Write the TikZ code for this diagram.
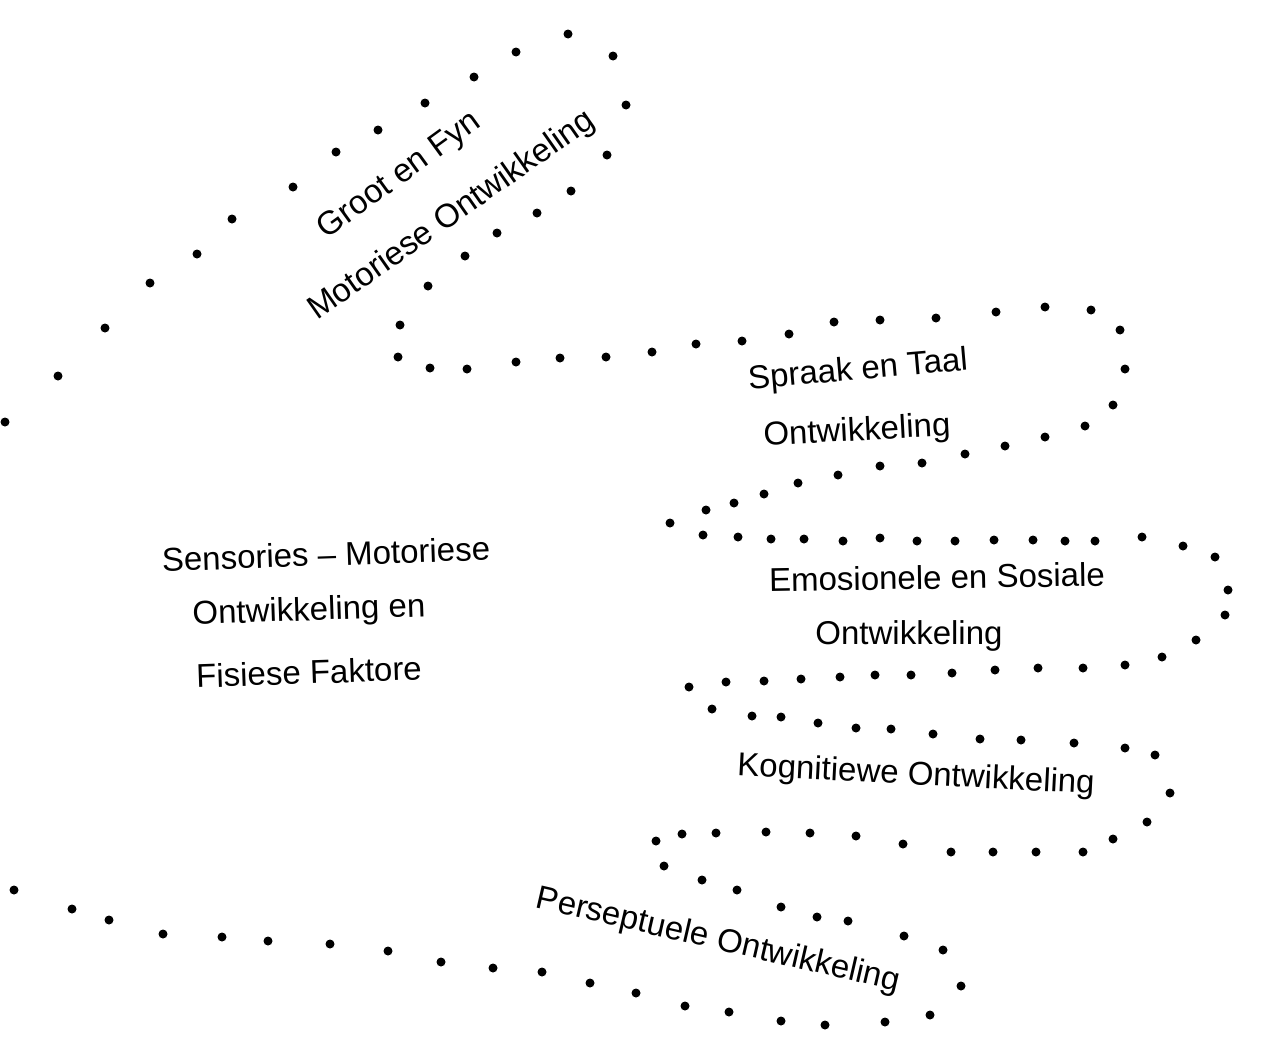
\documentclass[tikz,border=0pt]{standalone}
\usepackage{fontspec}
\setmainfont{Liberation Sans}
\begin{document}
\begin{tikzpicture}[x=1pt,y=-1pt,dot/.style={circle,fill=black,inner sep=0pt,minimum size=9pt},lab/.style={font=\fontsize{33}{38}\selectfont,inner sep=0pt}]
\useasboundingbox (0,0) rectangle (1283,1055);
\foreach \x/\y [count=\i] in {5/422,58/376,105/328,150/283,197/254,232/219,293/187,336/152,378/130,425/103,474/77,516/52,568/34,613/56,626/105,607/155,571/191,537/213,497/233,465/256,428/286,400/325,398/357,430/368,467/369,516/362,560/358,606/357,652/352,696/344,742/341,789/334,834/322,880/320,936/318,996/312,1045/307,1091/310,1120/330,1125/369,1113/405,1085/426,1045/437,1005/446,965/454,922/463,880/466,838/475,798/483,764/494,734/503,706/510,670/523,703/535,738/537,771/539,804/539,843/541,880/538,917/541,955/541,994/540,1033/540,1065/541,1095/541,1142/537,1183/546,1215/557,1228/590,1225/615,1196/640,1162/657,1125/665,1083/668,1038/668,995/670,952/673,911/675,875/675,840/677,801/679,764/681,726/682,689/687,712/709,752/716,781/717,818/723,856/728,891/729,933/734,980/739,1021/740,1074/743,1125/748,1155/755,1170/793,1147/822,1113/839,1083/852,1036/852,993/852,951/852,903/844,856/836,810/833,766/832,716/833,682/834,656/841,664/866,702/880,737/890,781/907,817/917,848/921,904/936,943/950,961/986,930/1015,885/1022,825/1025,781/1021,729/1012,685/1006,636/993,590/983,542/972,493/968,441/962,388/951,330/944,268/941,222/937,163/934,109/920,72/909,14/890}
  \node[dot] (d\i) at (\x,\y) {};
\node[lab,rotate=36] (t1) at (400,176) {Groot en Fyn};
\node[lab,rotate=35] (t2) at (452,216) {Motoriese Ontwikkeling};
\node[lab,rotate=5] (t3) at (858,371) {Spraak en Taal};
\node[lab,rotate=3] (t4) at (857,432) {Ontwikkeling};
\node[lab,rotate=1] (t5) at (937,577) {Emosionele en Sosiale};
\node[lab] (t6) at (909,636) {Ontwikkeling};
\node[lab,rotate=-3] (t7) at (916,776) {Kognitiewe Ontwikkeling};
\node[lab,rotate=-13] (t8) at (718,941) {Perseptuele Ontwikkeling};
\node[lab,rotate=2] (t9) at (326,554) {Sensories -- Motoriese};
\node[lab,rotate=2] (t10) at (309,612) {Ontwikkeling en};
\node[lab,rotate=2] (t11) at (309,672) {Fisiese Faktore};
\end{tikzpicture}
\end{document}
